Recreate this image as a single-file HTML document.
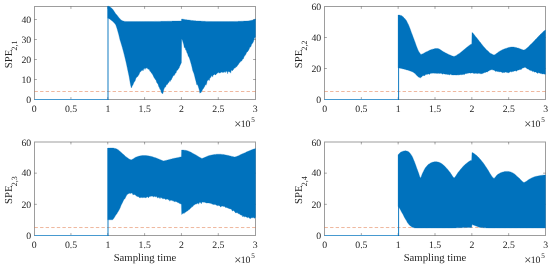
<!DOCTYPE html><html><head><meta charset="utf-8"><title>SPE</title><style>html,body{margin:0;padding:0;background:#fff}svg{display:block}text{font-family:"Liberation Serif",serif;fill:#262626;text-rendering:geometricPrecision}</style></head><body>
<svg width="550" height="266" viewBox="0 0 550 266">
<rect width="550" height="266" fill="#fff"/>
<g>
<rect x="34.5" y="6.5" width="221.0" height="93.0" fill="none" stroke="#262626" stroke-width="1" stroke-opacity="0.45"/>
<path d="M70.93,99.5v-2.4M70.93,6.5v2.4M107.77,99.5v-2.4M107.77,6.5v2.4M144.60,99.5v-2.4M144.60,6.5v2.4M181.43,99.5v-2.4M181.43,6.5v2.4M218.27,99.5v-2.4M218.27,6.5v2.4M34.5,79.50h2.4M255.5,79.50h-2.4M34.5,59.50h2.4M255.5,59.50h-2.4M34.5,39.50h2.4M255.5,39.50h-2.4M34.5,19.50h2.4M255.5,19.50h-2.4" stroke="#262626" stroke-width="0.8" stroke-opacity="0.5" fill="none"/>
<line x1="34.5" x2="255.5" y1="91.50" y2="91.50" stroke="#D95319" stroke-width="0.42" stroke-dasharray="3.4,2.18"/>
<polygon points="107.8,6.2 108.7,6.3 109.5,6.6 110.1,7.0 110.8,7.5 111.4,8.0 112.0,8.6 112.7,9.2 113.3,10.0 113.9,11.0 114.6,12.1 115.2,13.0 115.7,13.7 116.2,14.2 117.1,15.2 118.0,16.4 118.8,17.5 119.7,18.5 120.6,19.4 121.5,20.2 122.2,20.6 122.8,20.9 123.5,21.1 124.1,21.2 124.8,21.4 125.4,21.4 126.0,21.5 126.7,21.5 127.3,21.6 128.0,21.6 128.7,21.6 129.3,21.6 130.0,21.6 130.6,21.6 131.2,21.6 131.8,21.6 132.4,21.6 133.0,21.6 133.6,21.6 134.2,21.6 134.8,21.6 135.5,21.6 136.1,21.6 136.7,21.6 137.3,21.6 137.9,21.6 138.5,21.6 139.1,21.6 139.7,21.6 140.3,21.6 140.9,21.6 141.5,21.6 142.1,21.6 142.7,21.6 143.3,21.6 143.9,21.6 144.5,21.5 145.2,21.5 145.8,21.5 146.4,21.5 147.0,21.5 147.6,21.5 148.2,21.5 148.8,21.5 149.4,21.5 150.0,21.5 150.6,21.5 151.2,21.5 151.8,21.5 152.4,21.5 153.0,21.5 153.6,21.5 154.2,21.4 154.8,21.4 155.5,21.4 156.1,21.4 156.7,21.4 157.3,21.4 157.9,21.4 158.5,21.4 159.1,21.4 159.7,21.4 160.3,21.4 160.9,21.3 161.5,21.3 162.1,21.3 162.7,21.3 163.3,21.3 163.9,21.3 164.5,21.3 165.2,21.3 165.8,21.3 166.4,21.3 167.0,21.2 167.6,21.2 168.2,21.2 168.8,21.2 169.4,21.2 170.0,21.2 170.6,21.2 171.2,21.2 171.8,21.2 172.4,21.1 173.0,21.1 173.6,21.1 174.2,21.1 174.8,21.1 175.4,21.1 176.0,21.1 176.6,21.1 177.2,21.1 177.8,21.0 178.4,21.0 179.0,21.0 179.6,21.0 180.2,21.0 180.8,21.0 181.4,21.0 181.6,19.0 182.3,19.1 183.0,19.2 183.6,19.3 184.3,19.4 185.0,19.6 185.6,19.7 186.2,19.7 186.9,19.8 187.5,19.9 188.1,19.9 188.8,20.0 189.4,20.1 190.0,20.2 190.6,20.3 191.2,20.4 191.9,20.4 192.5,20.5 193.1,20.6 193.8,20.7 194.4,20.7 195.0,20.8 195.6,20.8 196.2,20.9 196.8,20.9 197.4,20.9 198.0,21.0 198.6,21.0 199.2,21.0 199.8,21.1 200.4,21.1 201.0,21.1 201.6,21.2 202.2,21.2 202.8,21.2 203.4,21.3 204.0,21.3 204.6,21.3 205.2,21.3 205.8,21.4 206.4,21.4 207.0,21.4 207.6,21.4 208.2,21.4 208.8,21.5 209.4,21.5 210.0,21.5 210.6,21.5 211.2,21.5 211.8,21.5 212.4,21.6 213.0,21.6 213.6,21.6 214.2,21.6 214.8,21.6 215.4,21.6 216.0,21.6 216.6,21.6 217.2,21.6 217.8,21.6 218.4,21.6 219.0,21.6 219.6,21.6 220.2,21.6 220.8,21.6 221.4,21.6 222.0,21.6 222.6,21.6 223.2,21.6 223.8,21.6 224.4,21.6 225.0,21.6 225.6,21.6 226.2,21.6 226.8,21.6 227.4,21.6 228.0,21.6 228.6,21.6 229.2,21.5 229.8,21.5 230.4,21.5 231.0,21.5 231.6,21.5 232.2,21.5 232.8,21.5 233.4,21.5 234.0,21.4 234.6,21.4 235.2,21.4 235.8,21.4 236.4,21.4 237.0,21.4 237.6,21.4 238.2,21.3 238.8,21.3 239.4,21.3 240.0,21.3 240.6,21.3 241.3,21.2 241.9,21.2 242.5,21.2 243.2,21.2 243.8,21.1 244.5,21.1 245.1,21.1 245.7,21.1 246.4,21.0 247.0,21.0 247.7,20.9 248.3,20.9 249.0,20.8 249.7,20.7 250.3,20.6 251.0,20.5 251.6,20.3 252.2,20.2 252.9,20.0 253.5,19.8 254.2,19.5 254.8,19.2 255.5,19.0 255.5,37.0 254.9,37.5 254.2,38.7 253.6,41.2 253.0,42.5 252.4,43.4 251.8,44.1 251.2,45.7 250.6,47.1 250.0,47.1 249.2,48.9 248.4,50.6 247.8,51.4 247.2,51.9 246.6,52.5 246.0,54.0 245.3,55.2 244.7,55.8 244.0,56.9 243.3,58.9 242.7,58.9 242.0,60.4 241.3,61.2 240.7,61.2 240.0,62.5 239.3,62.8 238.7,64.0 238.0,64.9 237.3,65.8 236.7,66.9 236.0,66.6 235.3,68.1 234.7,68.0 234.0,68.6 233.3,69.8 232.7,70.4 232.0,70.7 231.3,69.9 230.7,73.2 230.0,71.5 229.4,72.1 228.8,71.9 228.2,71.0 227.6,73.8 227.0,71.1 226.4,71.6 225.8,71.5 225.2,72.7 224.6,71.4 224.0,72.4 223.4,72.2 222.8,72.0 222.2,72.7 221.6,72.1 221.0,72.1 220.4,73.0 219.8,72.7 219.2,73.3 218.6,72.3 218.0,72.8 217.4,72.9 216.8,73.7 216.2,74.3 215.6,74.9 215.0,74.9 214.4,74.1 213.8,74.9 213.2,75.0 212.6,77.1 212.0,75.5 211.3,76.3 210.7,77.7 210.0,77.6 209.3,80.6 208.7,79.4 208.0,80.6 207.3,80.4 206.7,83.5 206.0,85.3 205.3,84.4 204.7,86.4 204.0,87.5 203.3,88.7 202.6,89.4 202.0,90.9 201.3,92.1 200.6,92.9 200.6,92.3 199.9,93.2 199.3,90.1 198.7,87.9 198.0,85.8 197.3,84.5 196.7,84.7 196.0,81.4 195.3,79.0 194.7,76.4 194.0,73.8 193.3,72.1 192.7,70.5 192.0,67.3 191.3,64.5 190.7,62.5 190.0,60.0 189.4,58.2 188.8,56.8 188.2,56.3 187.6,53.7 187.0,53.1 186.3,50.4 185.7,50.1 185.0,47.4 184.3,47.7 183.7,44.6 183.0,42.3 182.3,39.9 181.7,39.1 181.4,62.7 180.8,63.9 180.2,65.2 179.6,66.4 179.0,68.4 178.4,68.5 177.8,70.0 177.2,70.2 176.6,71.1 176.0,73.2 175.3,73.0 174.7,74.8 174.0,75.7 173.3,75.6 172.7,76.9 172.0,78.3 171.4,79.7 170.8,80.0 170.2,81.5 169.6,80.5 169.0,82.6 168.3,82.5 167.7,83.9 167.0,84.8 166.3,84.8 165.7,86.8 165.0,87.2 164.4,88.0 163.8,89.6 163.2,92.3 162.6,93.9 162.0,93.0 162.0,93.3 161.3,92.5 160.7,90.1 160.0,89.3 159.3,87.5 158.7,86.5 158.0,84.2 157.3,83.2 156.7,82.5 156.0,80.2 155.3,79.5 154.7,78.4 154.0,77.4 153.3,75.9 152.7,74.8 152.0,73.6 151.3,73.0 150.7,71.4 150.0,71.4 149.3,69.5 148.6,69.3 147.8,69.1 147.1,67.8 146.4,68.0 146.4,68.2 145.7,68.1 145.0,69.5 144.4,68.1 143.7,69.0 143.0,71.0 142.3,69.7 141.7,70.4 141.0,71.4 140.3,71.7 139.7,72.8 139.0,74.6 138.3,75.6 137.7,76.5 137.0,77.3 136.3,77.4 135.7,79.0 135.0,81.3 134.3,81.8 133.7,83.1 133.0,84.8 132.2,86.1 131.4,88.0 131.4,88.0 130.8,85.9 130.2,82.9 129.6,79.4 129.0,76.0 128.4,73.3 127.8,70.4 127.2,67.6 126.6,64.7 126.0,62.0 125.4,59.4 124.8,57.0 124.2,54.6 123.6,52.2 123.0,50.0 122.4,47.8 121.8,45.8 121.2,43.8 120.6,41.8 120.0,40.0 119.3,37.1 118.7,34.5 118.0,32.0 117.3,29.4 116.5,27.0 115.8,25.0 115.0,23.8 114.3,23.0 113.5,22.3 112.9,21.6 112.2,21.0 111.6,20.4 110.9,19.9 110.3,19.5 109.7,19.0 109.0,18.7 108.4,18.3 107.8,18.2" fill="#0072BD" stroke="#0072BD" stroke-width="0.3" stroke-linejoin="round"/>
<path d="M35.0,99.5 H108.17" fill="none" stroke="#fff" stroke-width="1"/>
<path d="M34.5,99.5 H108.47" fill="none" stroke="#0072BD" stroke-width="0.72"/>
<path d="M108.00,99.9 V6.2" fill="none" stroke="#0072BD" stroke-width="1.1" stroke-opacity="0.85"/>
<text x="34.2" y="111.8" font-size="9.8" text-anchor="middle">0</text>
<text x="71.0" y="111.8" font-size="9.8" text-anchor="middle">0.5</text>
<text x="107.9" y="111.8" font-size="9.8" text-anchor="middle">1</text>
<text x="144.7" y="111.8" font-size="9.8" text-anchor="middle">1.5</text>
<text x="181.5" y="111.8" font-size="9.8" text-anchor="middle">2</text>
<text x="218.4" y="111.8" font-size="9.8" text-anchor="middle">2.5</text>
<text x="255.2" y="111.8" font-size="9.8" text-anchor="middle">3</text>
<text x="31.2" y="102.7" font-size="9.8" text-anchor="end">0</text>
<text x="31.2" y="82.7" font-size="9.8" text-anchor="end">10</text>
<text x="31.2" y="62.7" font-size="9.8" text-anchor="end">20</text>
<text x="31.2" y="42.7" font-size="9.8" text-anchor="end">30</text>
<text x="31.2" y="22.7" font-size="9.8" text-anchor="end">40</text>
<text x="234.2" y="127.8" font-size="12.5">×</text>
<text x="250.5" y="127.1" font-size="9.8" text-anchor="end">10</text>
<text x="251.3" y="122.1" font-size="7.2" text-anchor="start">5</text>
<g transform="translate(12.1,53.0) rotate(-90)"><text x="-15.2" y="0" font-size="10.7">SPE</text><text x="2.5" y="5.1" font-size="8">2,1</text></g>
</g>
<g>
<rect x="324.5" y="6.5" width="221.0" height="93.0" fill="none" stroke="#262626" stroke-width="1" stroke-opacity="0.45"/>
<path d="M361.33,99.5v-2.4M361.33,6.5v2.4M398.17,99.5v-2.4M398.17,6.5v2.4M435.00,99.5v-2.4M435.00,6.5v2.4M471.83,99.5v-2.4M471.83,6.5v2.4M508.67,99.5v-2.4M508.67,6.5v2.4M324.5,68.50h2.4M545.5,68.50h-2.4M324.5,37.50h2.4M545.5,37.50h-2.4" stroke="#262626" stroke-width="0.8" stroke-opacity="0.5" fill="none"/>
<line x1="324.5" x2="545.5" y1="91.50" y2="91.50" stroke="#D95319" stroke-width="0.42" stroke-dasharray="3.4,2.18"/>
<polygon points="398.1,15.0 398.8,15.1 399.4,15.1 400.1,15.2 400.7,15.4 401.4,15.6 402.0,16.0 402.7,16.5 403.3,17.0 404.0,17.7 404.7,18.4 405.3,19.2 406.0,20.0 406.6,21.0 407.2,22.2 407.8,23.4 408.4,24.6 409.0,26.0 409.6,27.5 410.2,29.1 410.8,30.7 411.4,32.4 412.0,34.0 412.6,35.6 413.2,37.2 413.8,38.8 414.4,40.4 415.0,42.0 415.6,43.7 416.2,45.4 416.8,47.1 417.4,48.6 418.0,50.0 418.6,51.2 419.2,52.2 419.8,53.1 420.4,53.9 421.0,54.4 421.0,54.4 421.6,54.2 422.2,54.0 422.9,53.7 423.5,53.4 424.1,53.0 424.8,52.7 425.4,52.3 426.0,52.0 426.6,51.7 427.2,51.5 427.8,51.2 428.4,50.9 429.0,50.6 429.6,50.3 430.2,50.1 430.8,49.8 431.4,49.6 432.0,49.4 432.6,49.2 433.2,49.1 433.8,48.9 434.4,48.7 435.0,48.6 435.6,48.5 436.2,48.5 436.8,48.5 437.4,48.5 438.0,48.6 438.6,48.8 439.2,49.0 439.8,49.3 440.4,49.7 441.0,50.1 441.6,50.5 442.2,50.9 442.8,51.3 443.4,51.7 444.0,52.0 444.6,52.3 445.2,52.7 445.8,53.0 446.4,53.3 447.0,53.6 447.6,53.9 448.2,54.2 448.8,54.5 449.4,54.8 450.0,55.0 450.7,55.3 451.3,55.6 452.0,55.9 452.7,56.1 453.3,56.3 454.0,56.4 454.0,56.4 454.6,56.2 455.2,56.0 455.8,55.7 456.4,55.4 457.0,55.0 457.6,54.6 458.2,54.2 458.8,53.8 459.4,53.4 460.0,53.0 460.6,52.6 461.2,52.1 461.8,51.6 462.4,51.1 463.0,50.5 463.6,50.0 464.2,49.5 464.8,49.0 465.4,48.5 466.0,48.0 466.6,47.5 467.3,47.0 467.9,46.4 468.6,45.9 469.2,45.4 469.9,45.0 470.5,44.6 471.2,44.3 471.8,44.0 472.0,32.4 472.7,32.9 473.3,33.6 474.0,34.4 474.7,35.3 475.3,36.2 476.0,37.0 476.7,37.8 477.3,38.6 478.0,39.5 478.7,40.3 479.3,41.2 480.0,42.0 480.7,42.8 481.3,43.7 482.0,44.6 482.7,45.4 483.3,46.2 484.0,47.0 484.7,47.7 485.3,48.5 486.0,49.2 486.7,49.9 487.3,50.5 488.0,51.0 488.7,51.8 489.3,52.4 490.0,53.0 490.7,53.4 491.3,53.7 492.0,54.1 492.7,54.5 493.3,54.8 494.0,55.0 494.0,55.0 494.6,54.8 495.2,54.4 495.8,54.0 496.4,53.6 497.0,53.2 497.6,52.7 498.2,52.2 498.8,51.8 499.4,51.4 500.0,51.0 500.6,50.7 501.2,50.4 501.8,50.1 502.4,49.8 503.0,49.5 503.6,49.3 504.2,49.0 504.8,48.8 505.4,48.6 506.0,48.4 506.6,48.2 507.2,48.0 507.8,47.8 508.4,47.6 509.0,47.5 509.6,47.3 510.2,47.2 510.8,47.1 511.4,47.0 512.0,47.0 512.6,47.0 513.2,47.0 513.8,47.1 514.4,47.2 515.0,47.3 515.6,47.4 516.2,47.6 516.8,47.7 517.4,47.9 518.0,48.0 518.7,48.2 519.3,48.5 520.0,48.8 520.7,49.1 521.3,49.3 522.0,49.5 522.7,49.8 523.3,49.9 524.0,50.0 524.0,50.0 524.6,49.7 525.2,49.4 525.8,49.0 526.4,48.5 527.0,48.0 527.6,47.5 528.2,47.0 528.8,46.5 529.4,45.8 530.0,45.0 530.6,44.5 531.2,44.0 531.8,43.4 532.4,42.8 533.0,42.2 533.6,41.5 534.2,40.9 534.8,40.2 535.4,39.6 536.0,39.0 536.6,38.4 537.2,37.8 537.8,37.1 538.4,36.5 539.0,35.8 539.6,35.2 540.2,34.6 540.8,34.0 541.4,33.5 542.0,33.0 542.7,32.2 543.4,31.4 544.1,30.8 544.8,30.4 545.5,30.0 545.5,74.2 544.9,74.1 544.3,74.2 543.7,73.8 543.1,74.1 542.5,73.9 541.9,73.8 541.2,73.6 540.6,73.5 540.0,73.3 539.4,73.0 538.8,73.1 538.2,72.6 537.6,73.4 537.0,73.0 536.4,72.4 535.7,71.9 535.1,72.0 534.5,72.2 533.8,71.4 533.2,71.3 532.5,71.6 531.9,71.1 531.3,70.6 530.6,70.6 530.0,70.3 529.4,70.0 528.8,69.5 528.1,68.9 527.5,68.9 526.9,68.4 526.2,68.1 525.6,67.6 525.0,67.2 525.0,67.3 524.4,67.4 523.8,67.7 523.2,67.9 522.6,68.1 522.0,68.6 521.3,69.4 520.6,69.4 520.0,69.6 519.3,69.7 518.6,69.9 518.0,70.2 517.3,70.3 516.6,71.3 516.0,70.9 515.4,70.8 514.7,70.9 514.1,71.1 513.5,71.5 512.9,71.3 512.3,71.7 511.7,72.0 511.0,71.6 510.4,71.7 509.8,72.1 509.2,72.5 508.6,72.9 507.9,72.2 507.3,72.7 506.7,72.4 506.1,72.1 505.5,72.1 504.9,72.4 504.2,72.4 503.6,72.2 503.0,72.9 502.4,72.6 501.8,72.2 501.2,72.1 500.6,71.7 500.0,71.9 499.3,71.8 498.7,71.7 498.1,71.6 497.5,71.5 496.9,71.5 496.3,71.0 495.6,71.5 495.0,70.9 494.3,70.3 493.6,69.9 492.9,70.3 492.3,69.5 491.6,69.7 491.6,69.7 490.9,69.7 490.2,70.2 489.6,70.2 488.9,71.0 488.2,71.1 487.5,72.1 486.9,71.9 486.2,71.9 485.5,72.4 484.8,72.5 484.1,72.7 483.5,73.1 482.8,73.5 482.2,73.5 481.6,73.9 480.9,73.2 480.3,73.9 479.7,73.3 479.1,73.5 478.5,73.3 477.9,73.3 477.2,73.8 476.6,73.2 476.0,73.4 475.4,73.2 474.7,73.1 474.1,73.9 473.4,73.1 472.8,73.1 472.1,72.8 471.8,73.1 471.2,72.9 470.5,73.2 469.9,72.9 469.3,73.0 468.6,73.1 468.0,73.4 467.4,73.2 466.7,73.5 466.1,73.7 465.5,73.6 464.9,74.2 464.2,74.6 463.6,74.3 463.0,74.7 462.3,74.4 461.7,74.6 461.1,74.9 460.5,74.6 459.8,74.9 459.2,74.7 458.6,75.1 458.0,74.8 457.4,75.0 456.8,75.1 456.1,75.1 455.5,75.0 454.9,74.9 454.3,74.9 453.7,75.0 453.0,74.9 452.4,74.9 451.8,74.9 451.2,74.6 450.6,74.3 450.0,74.5 449.3,74.9 448.7,74.5 448.1,74.5 447.5,74.5 446.8,74.3 446.2,74.2 445.6,74.3 445.0,74.0 444.3,74.0 443.7,73.8 443.1,73.7 442.5,74.2 441.8,73.6 441.2,73.5 440.6,73.3 440.0,73.5 439.3,73.4 438.7,73.1 438.1,73.8 437.5,73.3 436.8,73.4 436.2,73.2 435.6,73.3 435.0,73.3 434.4,73.2 433.8,73.2 433.1,73.1 432.5,73.3 431.9,73.1 431.2,73.6 430.5,73.3 429.9,74.0 429.2,74.5 428.5,73.7 427.9,74.4 427.2,74.1 426.5,74.5 425.8,74.6 425.1,75.0 424.4,76.0 423.8,75.3 423.1,75.9 422.4,75.8 421.7,77.1 421.0,77.0 420.4,78.1 419.7,77.6 419.7,77.6 419.0,77.3 418.4,76.9 417.7,76.3 417.0,75.7 416.3,75.0 415.7,74.3 415.0,73.5 414.3,72.9 413.6,72.5 412.9,72.1 412.2,71.8 411.6,71.5 410.9,71.2 410.2,70.9 409.5,70.7 408.9,70.5 408.2,70.3 407.5,70.1 406.8,69.9 406.1,69.7 405.5,69.5 404.8,69.3 404.2,69.2 403.6,69.0 403.0,68.9 402.4,68.7 401.8,68.6 401.1,68.4 400.5,68.3 399.9,68.2 399.3,68.1 398.7,68.0 398.1,67.9" fill="#0072BD" stroke="#0072BD" stroke-width="0.3" stroke-linejoin="round"/>
<path d="M325.0,99.5 H398.17" fill="none" stroke="#fff" stroke-width="1"/>
<path d="M324.5,99.5 H399.02" fill="none" stroke="#0072BD" stroke-width="0.72"/>
<path d="M398.55,99.9 V15.0" fill="none" stroke="#0072BD" stroke-width="1.1" stroke-opacity="0.85"/>
<text x="324.6" y="111.8" font-size="9.8" text-anchor="middle">0</text>
<text x="361.4" y="111.8" font-size="9.8" text-anchor="middle">0.5</text>
<text x="398.3" y="111.8" font-size="9.8" text-anchor="middle">1</text>
<text x="435.1" y="111.8" font-size="9.8" text-anchor="middle">1.5</text>
<text x="471.9" y="111.8" font-size="9.8" text-anchor="middle">2</text>
<text x="508.8" y="111.8" font-size="9.8" text-anchor="middle">2.5</text>
<text x="545.6" y="111.8" font-size="9.8" text-anchor="middle">3</text>
<text x="321.2" y="102.7" font-size="9.8" text-anchor="end">0</text>
<text x="321.2" y="71.7" font-size="9.8" text-anchor="end">20</text>
<text x="321.2" y="40.7" font-size="9.8" text-anchor="end">40</text>
<text x="321.2" y="9.7" font-size="9.8" text-anchor="end">60</text>
<text x="524.2" y="127.8" font-size="12.5">×</text>
<text x="540.5" y="127.1" font-size="9.8" text-anchor="end">10</text>
<text x="541.3" y="122.1" font-size="7.2" text-anchor="start">5</text>
<g transform="translate(302.1,53.0) rotate(-90)"><text x="-15.2" y="0" font-size="10.7">SPE</text><text x="2.5" y="5.1" font-size="8">2,2</text></g>
</g>
<g>
<rect x="34.5" y="142.0" width="221.0" height="93.5" fill="none" stroke="#262626" stroke-width="1" stroke-opacity="0.45"/>
<path d="M70.93,235.5v-2.4M70.93,142.0v2.4M107.77,235.5v-2.4M107.77,142.0v2.4M144.60,235.5v-2.4M144.60,142.0v2.4M181.43,235.5v-2.4M181.43,142.0v2.4M218.27,235.5v-2.4M218.27,142.0v2.4M34.5,204.33h2.4M255.5,204.33h-2.4M34.5,173.17h2.4M255.5,173.17h-2.4" stroke="#262626" stroke-width="0.8" stroke-opacity="0.5" fill="none"/>
<line x1="34.5" x2="255.5" y1="227.52" y2="227.52" stroke="#D95319" stroke-width="0.42" stroke-dasharray="3.4,2.18"/>
<polygon points="107.8,148.1 108.4,148.1 109.1,148.1 109.7,148.1 110.3,148.0 111.0,148.0 111.6,148.0 112.2,148.0 112.9,148.0 113.5,148.1 114.2,148.2 114.8,148.4 115.5,148.5 116.2,148.8 116.8,149.0 117.5,149.4 118.2,149.8 118.9,150.4 119.5,150.9 120.2,151.5 120.9,152.2 121.6,152.8 122.3,153.4 122.9,154.0 123.6,154.6 124.3,155.2 125.0,155.8 125.6,156.4 126.3,156.9 127.0,157.4 127.7,157.9 128.4,158.4 129.0,158.9 129.7,159.3 130.4,159.6 131.1,159.9 131.1,159.9 131.8,159.6 132.4,159.3 133.1,158.9 133.8,158.4 134.5,158.0 135.1,157.5 135.8,157.2 136.5,156.9 137.1,156.7 137.8,156.5 138.5,156.3 139.2,156.1 139.8,155.9 140.5,155.8 141.2,155.7 141.9,155.6 142.6,155.5 143.2,155.5 143.9,155.5 144.6,155.5 145.2,155.5 145.8,155.6 146.4,155.6 147.0,155.7 147.6,155.7 148.2,155.8 148.8,155.9 149.4,156.1 150.0,156.2 150.6,156.3 151.2,156.5 151.9,156.6 152.5,156.8 153.1,157.0 153.7,157.2 154.3,157.4 154.9,157.6 155.6,157.8 156.2,158.0 156.8,158.2 157.4,158.4 158.0,158.7 158.6,159.0 159.2,159.2 159.8,159.5 160.5,159.8 161.1,160.1 161.7,160.3 162.3,160.6 162.9,160.8 163.5,160.9 163.5,160.9 164.1,160.8 164.8,160.7 165.4,160.6 166.0,160.4 166.7,160.2 167.3,160.1 167.9,159.9 168.5,159.7 169.2,159.5 169.8,159.4 170.4,159.2 171.1,159.0 171.7,158.9 172.3,158.7 173.0,158.6 173.6,158.4 174.2,158.3 174.8,158.2 175.5,158.1 176.1,157.9 176.7,157.8 177.4,157.7 178.0,157.6 178.7,157.4 179.4,157.2 180.0,157.0 180.7,156.9 181.4,156.8 181.6,150.0 182.2,150.0 182.9,150.1 183.5,150.1 184.2,150.2 184.8,150.2 185.4,150.3 186.1,150.4 186.7,150.6 187.4,150.8 188.0,151.0 188.6,151.2 189.2,151.5 189.8,151.7 190.5,152.0 191.1,152.3 191.7,152.7 192.3,153.0 192.9,153.4 193.5,153.7 194.2,154.1 194.8,154.4 195.4,154.7 196.0,155.0 196.6,155.4 197.2,155.8 197.8,156.2 198.4,156.6 199.0,156.9 199.6,157.3 200.2,157.6 200.8,157.9 201.4,158.2 202.0,158.4 202.0,158.4 202.6,158.3 203.2,158.1 203.8,157.8 204.4,157.6 205.0,157.3 205.6,157.0 206.2,156.7 206.8,156.5 207.4,156.2 208.0,156.0 208.6,155.8 209.2,155.6 209.8,155.5 210.4,155.3 211.0,155.2 211.6,155.0 212.2,154.9 212.8,154.8 213.4,154.7 214.0,154.6 214.6,154.5 215.2,154.4 215.8,154.4 216.4,154.3 217.0,154.2 217.6,154.2 218.2,154.2 218.8,154.2 219.4,154.2 220.0,154.2 220.6,154.2 221.2,154.3 221.8,154.4 222.5,154.4 223.1,154.5 223.7,154.6 224.3,154.7 224.9,154.8 225.5,154.9 226.2,155.1 226.8,155.2 227.4,155.3 228.0,155.4 228.6,155.5 229.3,155.7 229.9,155.9 230.5,156.0 231.2,156.2 231.8,156.4 232.5,156.5 233.1,156.7 233.7,156.8 234.4,156.9 235.0,157.0 235.0,157.0 235.6,156.8 236.3,156.6 236.9,156.4 237.5,156.1 238.2,155.9 238.8,155.6 239.5,155.2 240.1,154.9 240.7,154.6 241.4,154.3 242.0,154.0 242.6,153.7 243.2,153.5 243.8,153.2 244.5,152.9 245.1,152.7 245.7,152.4 246.3,152.1 246.9,151.8 247.5,151.6 248.2,151.3 248.8,151.0 249.4,150.8 250.0,150.6 250.6,150.3 251.2,150.0 251.8,149.8 252.4,149.5 253.1,149.3 253.7,149.1 254.3,148.9 254.9,148.7 255.5,148.6 255.5,217.3 254.9,218.1 254.3,218.3 253.7,217.8 253.1,217.3 252.5,217.9 251.9,217.6 251.3,217.9 250.7,218.4 250.1,218.6 249.5,218.2 248.8,217.5 248.2,217.3 247.5,217.8 246.9,217.2 246.2,216.9 245.6,216.5 244.9,217.1 244.2,216.6 243.6,216.1 242.9,217.0 242.3,215.6 241.6,215.3 241.0,215.0 240.3,214.7 239.6,214.2 239.0,213.5 238.3,213.8 237.6,212.8 236.9,212.8 236.3,212.7 235.6,212.9 234.9,211.9 234.3,211.3 233.6,210.4 233.0,210.7 232.3,211.1 231.7,209.8 231.0,209.0 230.4,209.1 229.8,208.5 229.1,208.9 228.5,208.3 227.9,207.8 227.3,208.0 226.7,207.5 226.0,207.5 225.4,207.4 224.8,206.5 224.2,206.4 223.5,206.4 222.9,205.9 222.2,206.3 221.6,206.0 220.9,207.1 220.3,206.7 219.7,205.7 219.0,205.7 218.4,205.2 217.7,206.1 217.1,205.1 216.5,205.2 215.8,205.0 215.2,204.3 214.5,204.5 213.9,204.5 213.2,204.4 212.6,204.1 212.0,204.3 211.3,203.6 210.7,203.3 210.0,203.5 209.4,203.0 208.8,202.9 208.2,203.0 207.6,202.9 207.0,203.1 206.4,203.0 205.7,202.5 205.1,202.8 204.5,202.0 203.9,202.6 203.3,202.1 202.6,202.0 202.0,202.2 201.3,203.8 200.7,202.7 200.0,202.3 199.4,202.4 198.7,204.3 198.0,202.8 197.4,203.6 196.7,203.8 196.0,204.2 195.3,204.1 194.7,204.8 194.0,205.1 193.3,205.8 192.7,206.8 192.0,206.6 191.4,207.6 190.7,208.1 190.1,208.8 189.4,209.4 188.7,209.8 188.1,210.5 187.4,211.0 186.8,211.3 186.1,211.8 185.5,212.2 184.8,212.5 184.2,213.4 183.6,213.1 182.9,213.8 182.3,213.5 181.7,214.6 181.4,204.4 180.7,203.6 180.0,204.2 179.4,203.0 178.7,202.8 178.0,202.8 177.4,202.2 176.7,202.1 176.1,201.4 175.5,201.6 174.8,201.4 174.2,201.7 173.6,201.2 173.0,200.6 172.3,200.8 171.7,200.6 171.1,199.9 170.5,200.3 169.8,201.2 169.2,199.8 168.6,200.1 168.0,199.3 167.4,199.1 166.8,199.3 166.1,199.2 165.5,199.5 164.9,199.0 164.3,198.4 163.7,198.7 163.0,198.4 162.4,198.6 161.8,198.2 161.2,197.5 160.6,197.6 160.0,198.7 159.3,197.4 158.7,197.7 158.1,197.1 157.5,198.2 156.9,196.7 156.3,196.6 155.7,196.8 155.1,196.8 154.4,196.3 153.8,196.8 153.2,196.7 152.6,196.3 152.0,196.1 151.4,196.3 150.8,196.1 150.2,196.8 149.5,196.6 148.9,197.0 148.3,197.9 147.7,196.7 147.1,196.9 146.5,197.3 145.8,198.0 145.2,197.5 144.6,197.4 144.0,197.5 143.4,197.5 142.8,197.4 142.2,197.8 141.6,197.5 141.0,197.2 140.4,197.8 139.8,197.9 139.2,197.2 138.5,196.8 137.8,196.5 137.1,196.4 136.5,196.0 135.8,195.5 135.1,194.7 134.4,194.5 133.7,194.5 133.1,195.1 132.4,193.5 131.7,193.1 131.0,193.2 130.3,193.5 129.7,193.2 129.0,193.4 128.4,193.7 127.7,194.3 127.0,194.6 126.3,196.1 125.7,197.0 125.0,198.7 124.3,199.0 123.7,199.9 123.0,201.4 122.3,202.9 121.6,204.3 120.9,205.8 120.3,207.4 119.6,208.9 118.9,210.3 118.2,211.5 117.5,212.6 116.9,213.7 116.2,214.6 115.5,215.6 114.8,216.8 114.0,218.0 113.3,219.1 112.6,219.8 112.6,219.8 107.8,219.8" fill="#0072BD" stroke="#0072BD" stroke-width="0.3" stroke-linejoin="round"/>
<path d="M35.0,235.5 H108.17" fill="none" stroke="#fff" stroke-width="1"/>
<path d="M34.5,235.5 H108.47" fill="none" stroke="#0072BD" stroke-width="0.72"/>
<path d="M108.00,235.9 V148.1" fill="none" stroke="#0072BD" stroke-width="1.1" stroke-opacity="0.85"/>
<text x="34.2" y="247.8" font-size="9.8" text-anchor="middle">0</text>
<text x="71.0" y="247.8" font-size="9.8" text-anchor="middle">0.5</text>
<text x="107.9" y="247.8" font-size="9.8" text-anchor="middle">1</text>
<text x="144.7" y="247.8" font-size="9.8" text-anchor="middle">1.5</text>
<text x="181.5" y="247.8" font-size="9.8" text-anchor="middle">2</text>
<text x="218.4" y="247.8" font-size="9.8" text-anchor="middle">2.5</text>
<text x="255.2" y="247.8" font-size="9.8" text-anchor="middle">3</text>
<text x="31.2" y="238.7" font-size="9.8" text-anchor="end">0</text>
<text x="31.2" y="207.5" font-size="9.8" text-anchor="end">20</text>
<text x="31.2" y="176.4" font-size="9.8" text-anchor="end">40</text>
<text x="31.2" y="145.8" font-size="9.8" text-anchor="end">60</text>
<text x="234.2" y="263.8" font-size="12.5">×</text>
<text x="250.5" y="263.1" font-size="9.8" text-anchor="end">10</text>
<text x="251.3" y="258.1" font-size="7.2" text-anchor="start">5</text>
<g transform="translate(12.1,188.8) rotate(-90)"><text x="-15.2" y="0" font-size="10.7">SPE</text><text x="2.5" y="5.1" font-size="8">2,3</text></g>
<text x="145.0" y="260.8" font-size="10.7" text-anchor="middle">Sampling time</text>
</g>
<g>
<rect x="324.5" y="142.0" width="221.0" height="93.5" fill="none" stroke="#262626" stroke-width="1" stroke-opacity="0.45"/>
<path d="M361.33,235.5v-2.4M361.33,142.0v2.4M398.17,235.5v-2.4M398.17,142.0v2.4M435.00,235.5v-2.4M435.00,142.0v2.4M471.83,235.5v-2.4M471.83,142.0v2.4M508.67,235.5v-2.4M508.67,142.0v2.4M324.5,204.33h2.4M545.5,204.33h-2.4M324.5,173.17h2.4M545.5,173.17h-2.4" stroke="#262626" stroke-width="0.8" stroke-opacity="0.5" fill="none"/>
<line x1="324.5" x2="545.5" y1="227.52" y2="227.52" stroke="#D95319" stroke-width="0.42" stroke-dasharray="3.4,2.18"/>
<polygon points="398.1,154.8 398.8,154.2 399.5,153.3 400.2,152.5 400.8,152.2 401.4,151.9 402.0,151.6 402.6,151.4 403.2,151.2 403.8,151.0 404.4,150.9 405.1,150.8 405.7,150.8 406.3,150.9 406.9,151.1 407.5,151.3 408.2,151.6 408.8,152.0 409.4,152.5 410.0,153.2 410.6,154.0 411.3,154.9 411.9,155.9 412.5,157.1 413.1,158.4 413.7,159.9 414.4,161.5 415.0,163.2 415.6,164.8 416.2,166.5 416.8,168.3 417.5,170.1 418.1,171.8 418.7,173.3 419.3,175.3 419.9,176.9 420.5,177.9 420.5,177.9 421.2,176.7 421.8,175.0 422.5,173.3 423.3,171.7 424.0,170.2 424.8,168.7 425.4,167.8 426.0,167.0 426.7,166.2 427.3,165.5 427.9,164.8 428.5,164.3 429.2,163.9 429.9,163.5 430.5,163.1 431.1,162.8 431.8,162.5 432.4,162.3 433.1,162.1 433.7,161.9 434.3,161.8 435.0,161.7 435.6,161.7 436.3,161.7 436.9,161.8 437.6,161.9 438.2,162.1 438.9,162.3 439.5,162.5 440.2,162.8 440.9,163.2 441.5,163.6 442.2,164.0 442.8,164.5 443.5,165.1 444.1,165.7 444.8,166.3 445.5,167.0 446.1,167.7 446.8,168.4 447.5,169.2 448.2,170.0 448.8,170.9 449.5,171.7 450.2,172.6 450.8,173.6 451.5,174.6 452.1,175.6 452.8,176.6 453.4,177.3 454.1,177.9 454.1,177.9 454.8,177.3 455.4,176.6 456.1,175.6 456.7,174.6 457.4,173.6 458.0,172.6 458.7,171.7 459.4,170.9 460.0,170.1 460.7,169.3 461.3,168.5 462.0,167.7 462.6,167.0 463.3,166.3 464.0,165.6 464.6,165.0 465.3,164.3 466.0,163.7 466.7,163.2 467.3,162.7 468.0,162.2 468.6,161.7 469.2,161.3 469.9,160.9 470.5,160.6 471.1,160.4 471.7,160.2 472.0,152.5 472.7,152.8 473.3,153.1 474.0,153.5 474.7,154.0 475.3,154.5 476.0,155.0 476.7,155.6 477.3,156.2 478.0,156.8 478.7,157.5 479.3,158.3 480.0,159.0 480.7,159.8 481.3,160.6 482.0,161.4 482.7,162.2 483.3,163.1 484.0,164.0 484.7,165.0 485.3,166.0 486.0,167.0 486.7,168.0 487.3,169.0 488.0,170.0 488.6,171.1 489.2,172.1 489.8,173.2 490.4,174.1 491.0,175.0 491.6,175.9 492.2,176.7 492.8,177.4 493.4,178.0 494.0,178.5 494.0,178.5 494.6,178.0 495.2,177.3 495.8,176.5 496.4,175.7 497.0,175.0 497.7,174.5 498.3,174.1 499.0,173.7 499.7,173.3 500.3,172.9 501.0,172.6 501.6,172.4 502.2,172.2 502.8,172.1 503.4,171.9 504.0,171.7 504.6,171.6 505.2,171.5 505.8,171.4 506.4,171.4 507.0,171.4 507.6,171.4 508.2,171.5 508.8,171.6 509.4,171.7 510.0,171.8 510.6,172.0 511.2,172.2 511.8,172.4 512.4,172.7 513.0,173.0 513.6,173.4 514.2,173.8 514.8,174.3 515.4,174.8 516.0,175.3 516.6,175.9 517.2,176.4 517.8,177.0 518.4,177.5 519.0,178.0 519.6,178.6 520.2,179.3 520.9,180.0 521.5,180.6 522.1,181.2 522.8,181.8 523.4,182.2 524.0,182.6 524.0,182.6 524.6,182.3 525.2,182.0 525.9,181.6 526.5,181.2 527.1,180.7 527.8,180.2 528.4,179.8 529.0,179.4 529.6,179.1 530.2,178.7 530.9,178.4 531.5,178.1 532.1,177.8 532.8,177.5 533.4,177.2 534.0,177.0 534.6,176.8 535.2,176.6 535.8,176.5 536.4,176.3 537.0,176.2 537.6,176.1 538.2,175.9 538.8,175.8 539.4,175.7 540.0,175.6 540.6,175.5 541.2,175.4 541.8,175.3 542.4,175.2 543.1,175.2 543.7,175.1 544.3,175.1 544.9,175.0 545.5,175.0 545.5,228.0 544.9,228.0 544.3,228.0 543.7,228.0 543.1,228.0 542.5,228.0 541.9,228.0 541.3,228.0 540.7,228.0 540.1,228.0 539.5,228.0 538.9,228.0 538.3,228.0 537.7,228.0 537.1,228.0 536.5,228.0 535.8,228.0 535.2,228.0 534.6,228.0 534.0,228.0 533.4,228.0 532.8,228.0 532.2,228.0 531.6,228.0 531.0,228.0 530.4,228.0 529.8,228.0 529.2,228.0 528.6,228.0 528.0,228.0 527.4,228.0 526.8,228.0 526.2,228.0 525.6,228.0 525.0,228.0 524.4,228.0 523.8,228.0 523.2,228.0 522.6,228.0 522.0,228.0 521.4,228.0 520.8,228.0 520.2,228.0 519.6,228.0 519.0,228.0 518.4,228.0 517.8,228.0 517.1,228.0 516.5,228.0 515.9,228.0 515.3,228.0 514.7,228.0 514.1,228.0 513.5,228.0 512.9,228.0 512.3,228.0 511.7,228.0 511.1,228.0 510.5,228.0 509.9,228.0 509.3,228.0 508.7,228.0 508.1,228.0 507.5,228.0 506.9,228.0 506.3,228.0 505.7,228.0 505.1,228.0 504.5,228.0 503.9,228.0 503.3,228.0 502.7,228.0 502.1,228.0 501.5,228.0 500.9,228.0 500.3,228.0 499.7,228.0 499.0,228.0 498.4,228.0 497.8,228.0 497.2,228.0 496.6,228.0 496.0,228.0 495.4,228.0 494.8,228.0 494.2,228.0 493.6,228.0 493.0,228.0 492.4,228.0 491.8,228.0 491.2,228.0 490.6,228.0 490.0,228.0 489.4,228.0 488.8,228.0 488.1,227.9 487.5,227.9 486.9,227.9 486.2,227.9 485.6,227.8 485.0,227.8 484.4,227.8 483.8,227.7 483.1,227.7 482.5,227.6 481.9,227.6 481.2,227.5 480.6,227.5 480.0,227.4 479.3,227.2 478.7,227.0 478.0,226.8 477.3,226.5 476.7,226.2 476.0,226.0 475.3,225.8 474.7,225.5 474.0,225.2 473.3,225.0 472.7,224.8 472.0,224.6 471.7,227.4 471.1,227.4 470.5,227.4 469.9,227.4 469.3,227.4 468.7,227.5 468.1,227.5 467.5,227.5 466.9,227.5 466.3,227.5 465.7,227.5 465.1,227.6 464.5,227.6 463.9,227.6 463.3,227.6 462.7,227.6 462.1,227.7 461.5,227.7 460.9,227.7 460.2,227.7 459.6,227.7 459.0,227.8 458.4,227.8 457.8,227.8 457.2,227.8 456.6,227.8 456.0,227.9 455.4,227.9 454.8,227.9 454.2,227.9 453.6,227.9 453.0,227.9 452.4,228.0 451.8,228.0 451.2,228.0 450.6,228.0 450.0,228.0 449.4,228.0 448.8,228.0 448.2,228.0 447.6,228.0 447.0,228.0 446.4,228.0 445.8,228.0 445.2,228.0 444.5,228.0 443.9,228.0 443.3,228.0 442.7,228.0 442.1,228.0 441.5,228.0 440.9,228.0 440.3,228.0 439.7,228.0 439.1,228.0 438.5,228.0 437.9,228.0 437.3,228.0 436.7,228.0 436.1,228.0 435.5,228.0 434.8,228.0 434.2,228.0 433.6,228.0 433.0,228.0 432.4,228.0 431.8,228.0 431.2,228.0 430.6,228.0 430.0,228.0 429.4,228.0 428.8,228.0 428.1,228.0 427.5,228.0 426.9,228.0 426.2,228.0 425.6,228.0 425.0,228.0 424.4,228.0 423.8,228.0 423.1,228.0 422.5,228.0 421.9,228.0 421.2,228.0 420.6,228.0 420.0,228.0 419.4,228.0 418.7,228.0 418.1,228.0 417.5,228.0 416.8,228.0 416.2,227.9 415.6,227.9 414.9,227.9 414.3,227.8 413.6,227.6 413.0,227.4 412.3,227.2 411.6,226.8 410.9,226.3 410.2,225.8 409.6,225.2 408.9,224.4 408.2,223.6 407.5,222.7 406.9,221.6 406.2,220.3 405.5,219.2 404.8,218.0 404.1,216.7 403.5,215.4 402.8,214.1 402.1,212.9 401.4,211.7 400.8,210.5 400.1,209.2 399.4,208.1 398.8,207.2 398.1,206.5" fill="#0072BD" stroke="#0072BD" stroke-width="0.3" stroke-linejoin="round"/>
<path d="M325.0,235.5 H398.17" fill="none" stroke="#fff" stroke-width="1"/>
<path d="M324.5,235.5 H399.02" fill="none" stroke="#0072BD" stroke-width="0.72"/>
<path d="M398.55,235.9 V154.8" fill="none" stroke="#0072BD" stroke-width="1.1" stroke-opacity="0.85"/>
<text x="324.6" y="247.8" font-size="9.8" text-anchor="middle">0</text>
<text x="361.4" y="247.8" font-size="9.8" text-anchor="middle">0.5</text>
<text x="398.3" y="247.8" font-size="9.8" text-anchor="middle">1</text>
<text x="435.1" y="247.8" font-size="9.8" text-anchor="middle">1.5</text>
<text x="471.9" y="247.8" font-size="9.8" text-anchor="middle">2</text>
<text x="508.8" y="247.8" font-size="9.8" text-anchor="middle">2.5</text>
<text x="545.6" y="247.8" font-size="9.8" text-anchor="middle">3</text>
<text x="321.2" y="238.7" font-size="9.8" text-anchor="end">0</text>
<text x="321.2" y="207.5" font-size="9.8" text-anchor="end">20</text>
<text x="321.2" y="176.4" font-size="9.8" text-anchor="end">40</text>
<text x="321.2" y="145.8" font-size="9.8" text-anchor="end">60</text>
<text x="524.2" y="263.8" font-size="12.5">×</text>
<text x="540.5" y="263.1" font-size="9.8" text-anchor="end">10</text>
<text x="541.3" y="258.1" font-size="7.2" text-anchor="start">5</text>
<g transform="translate(302.1,188.8) rotate(-90)"><text x="-15.2" y="0" font-size="10.7">SPE</text><text x="2.5" y="5.1" font-size="8">2,4</text></g>
<text x="435.0" y="260.8" font-size="10.7" text-anchor="middle">Sampling time</text>
</g>
</svg></body></html>
